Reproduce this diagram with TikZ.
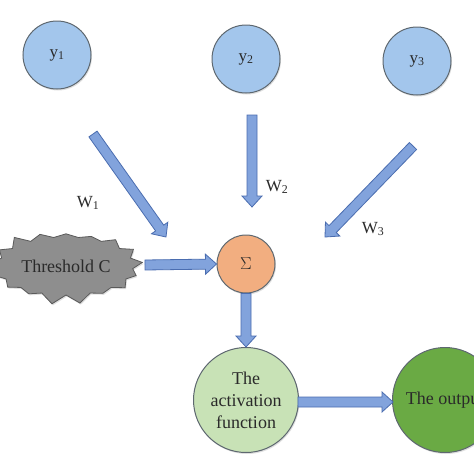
\documentclass[tikz,border=0pt]{standalone}
\usepackage{fontspec}
\setmainfont{Liberation Serif}
\usetikzlibrary{shapes.symbols,calc,shadows}
\definecolor{yblue}{HTML}{A3C6EC}
\definecolor{sigcol}{HTML}{F2AE80}
\definecolor{actcol}{HTML}{C8E2B6}
\definecolor{outcol}{HTML}{6AAA44}
\definecolor{edgecol}{HTML}{5E6870}
\definecolor{arrfill}{HTML}{82A3DC}
\definecolor{arredge}{HTML}{4A6DB0}
\definecolor{thrfill}{HTML}{8E8E8E}
\definecolor{thredge}{HTML}{5A5A5A}
\definecolor{txt}{HTML}{2A2A2A}
\newcommand{\blockarr}[2]{%
  \coordinate (H) at ($(#2)!11pt!(#1)$);
  \draw[blockarrow] ($(#1)!5pt!90:(#2)$) -- ($(H)!5pt!90:(#2)$) -- ($(H)!10pt!90:(#2)$)
    -- (#2) -- ($(H)!10pt!-90:(#2)$) -- ($(H)!5pt!-90:(#2)$) -- ($(#1)!5pt!-90:(#2)$) -- cycle;}
\begin{document}
\begin{tikzpicture}[x=1pt,y=-1pt,
  circ/.style={circle, draw=edgecol, line width=1pt, inner sep=0pt, text=txt,
    drop shadow={shadow xshift=1pt, shadow yshift=-1.5pt, opacity=0.25}},
  ycirc/.style={circ, fill=yblue, minimum size=68pt, font=\fontsize{17}{20}\selectfont},
  bigtext/.style={font=\fontsize{18}{22}\selectfont},
  wlab/.style={font=\fontsize{17}{20}\selectfont, text=txt},
  blockarrow/.style={fill=arrfill, draw=arredge, line width=0.8pt, line join=miter}
]
\useasboundingbox (0,0) rectangle (474,474);
\clip (0,0) rectangle (474,474);
\fill[white] (0,0) rectangle (474,474);

\node[ycirc] (y1) at (57,55) {y\textsubscript{1}};
\node[ycirc] (y2) at (246,59) {y\textsubscript{2}};
\node[ycirc] (y3) at (417,61) {y\textsubscript{3}};

\node[starburst, starburst points=17, starburst point height=10pt, random starburst=3,
  fill=thrfill, draw=thredge, line width=0.8pt, minimum width=154pt, minimum height=78pt,
  inner sep=0pt, bigtext, text=txt,
  drop shadow={shadow xshift=1pt, shadow yshift=-1.5pt, opacity=0.25}] (thr) at (66,266) {Threshold C};

\node[circ, fill=sigcol, minimum size=58pt, font=\fontsize{17}{20}\selectfont] (sig) at (246,264) {$\Sigma$};
\node[circ, fill=actcol, minimum size=105pt, bigtext, align=center] (act) at (246,400) {The\\activation\\function};
\node[circ, fill=outcol, minimum size=105pt, bigtext] (out) at (445,400) {The output};

\coordinate (a1s) at (93,134);
\coordinate (a1e) at (166,237);
\coordinate (a2s) at (252,115);
\coordinate (a2e) at (252,207);
\coordinate (a3s) at (413,146);
\coordinate (a3e) at (325,237);
\coordinate (a4s) at (145,265);
\coordinate (a6s) at (298,402);
\coordinate (a6e) at (393,402);

\blockarr{a1s}{a1e}
\blockarr{a2s}{a2e}
\blockarr{a3s}{a3e}
\blockarr{a4s}{sig.west}
\blockarr{sig.south}{act.north}
\blockarr{a6s}{a6e}

\node[wlab] (w1) at (88,203) {W\textsubscript{1}};
\node[wlab] (w2) at (277,187) {W\textsubscript{2}};
\node[wlab] (w3) at (373,229) {W\textsubscript{3}};
\end{tikzpicture}
\end{document}
